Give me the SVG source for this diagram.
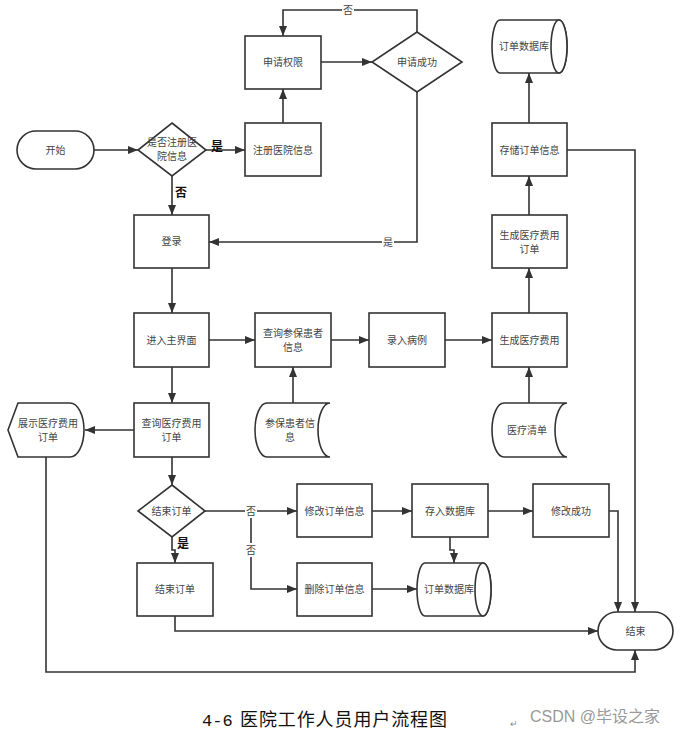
<svg xmlns="http://www.w3.org/2000/svg" width="682" height="735" viewBox="0 0 682 735">
<style>
.s{fill:#fff;stroke:#333;stroke-width:1.6}
.t{font-family:"Noto Sans CJK SC","Noto Sans",sans-serif;font-size:10px;fill:#444;text-anchor:middle}
.c{fill:none;stroke:#333;stroke-width:1.6}
.lb{font-family:"Noto Sans CJK SC",sans-serif;font-size:10px;fill:#444;text-anchor:middle}
.bl{font-family:"Noto Sans CJK SC",sans-serif;font-size:12px;font-weight:bold;fill:#111;text-anchor:middle}
</style>
<defs>
<marker id="a" viewBox="0 0 10 8" refX="10" refY="4" markerWidth="10" markerHeight="8" orient="auto" markerUnits="userSpaceOnUse"><path d="M0,0 L10,4 L0,8 Z" fill="#333"/></marker>
</defs>
<rect width="682" height="735" fill="#fff"/>
<g id="connectors">
<path class="c" d="M94,150 H138" marker-end="url(#a)"/>
<path class="c" d="M206,150 H245" marker-end="url(#a)"/>
<path class="c" d="M283,123 V89" marker-end="url(#a)"/>
<path class="c" d="M321,62 H372" marker-end="url(#a)"/>
<path class="c" d="M417,32 V10 H283 V36" marker-end="url(#a)"/>
<path class="c" d="M417,92 V242 H209" marker-end="url(#a)"/>
<path class="c" d="M172,176 V215" marker-end="url(#a)"/>
<path class="c" d="M172,268 V313" marker-end="url(#a)"/>
<path class="c" d="M209,340 H255" marker-end="url(#a)"/>
<path class="c" d="M331,340 H369" marker-end="url(#a)"/>
<path class="c" d="M445,340 H492" marker-end="url(#a)"/>
<path class="c" d="M293,403 V367" marker-end="url(#a)"/>
<path class="c" d="M529,403 V367" marker-end="url(#a)"/>
<path class="c" d="M529,313 V268" marker-end="url(#a)"/>
<path class="c" d="M529,215 V176" marker-end="url(#a)"/>
<path class="c" d="M529,123 V73" marker-end="url(#a)"/>
<path class="c" d="M567,150 H635 V612" marker-end="url(#a)"/>
<path class="c" d="M172,367 V403" marker-end="url(#a)"/>
<path class="c" d="M134,430 H85" marker-end="url(#a)"/>
<path class="c" d="M172,457 V485" marker-end="url(#a)"/>
<path class="c" d="M172,537 V550 H175 V563" marker-end="url(#a)"/>
<path class="c" d="M205,511 H297" marker-end="url(#a)"/>
<path class="c" d="M251,511 V589 H297" marker-end="url(#a)"/>
<path class="c" d="M372,511 H412" marker-end="url(#a)"/>
<path class="c" d="M488,511 H533" marker-end="url(#a)"/>
<path class="c" d="M450,537 V550 H454 V563" marker-end="url(#a)"/>
<path class="c" d="M372,589 H417" marker-end="url(#a)"/>
<path class="c" d="M609,511 H618 V612" marker-end="url(#a)"/>
<path class="c" d="M175,616 V631 H598" marker-end="url(#a)"/>
<path class="c" d="M46,457 V672 H635 V650" marker-end="url(#a)"/>
<rect x="342" y="3" width="12" height="14" fill="#fff"/>
<text class="lb" x="348" y="14">否</text>
<rect x="382" y="235" width="12" height="14" fill="#fff"/>
<text class="lb" x="388" y="246">是</text>
<rect x="245" y="504" width="12" height="14" fill="#fff"/>
<text class="lb" x="251" y="515">否</text>
<rect x="245" y="543" width="12" height="14" fill="#fff"/>
<text class="lb" x="251" y="554">否</text>
<text class="bl" x="217" y="151">是</text>
<text class="bl" x="181" y="197">否</text>
<text class="bl" x="183" y="548">是</text>
</g>
<g id="start"><rect class="s" x="17" y="131" width="77" height="38" rx="19"/><text class="t" x="55.5" y="154">开始</text></g>
<g id="d1"><path class="s" d="M172,123 L206,150 L172,176 L138,150 Z"/><text class="t" x="172" y="146">是否注册医</text><text class="t" x="172" y="160">院信息</text></g>
<g id="reg"><rect class="s" x="245" y="123" width="76" height="53"/><text class="t" x="283" y="154">注册医院信息</text></g>
<g id="apply"><rect class="s" x="245" y="36" width="76" height="53"/><text class="t" x="283" y="66">申请权限</text></g>
<g id="d2"><path class="s" d="M417,32 L462,62 L417,92 L372,62 Z"/><text class="t" x="417" y="66">申请成功</text></g>
<g id="db1"><path class="s" d="M500,20 H559 A8,26.5 0 0 1 559,73 H500 A8,26.5 0 0 1 500,20 Z"/><ellipse class="s" cx="559" cy="46.5" rx="8" ry="26.5"/><text class="t" x="524" y="50">订单数据库</text></g>
<g id="store"><rect class="s" x="492" y="123" width="75" height="53"/><text class="t" x="529.5" y="154">存储订单信息</text></g>
<g id="genorder"><rect class="s" x="492" y="215" width="75" height="53"/><text class="t" x="529.5" y="239">生成医疗费用</text><text class="t" x="529.5" y="253">订单</text></g>
<g id="login"><rect class="s" x="134" y="215" width="75" height="53"/><text class="t" x="171.5" y="245">登录</text></g>
<g id="main"><rect class="s" x="134" y="313" width="75" height="54"/><text class="t" x="171.5" y="344">进入主界面</text></g>
<g id="query"><rect class="s" x="255" y="313" width="76" height="54"/><text class="t" x="293" y="337">查询参保患者</text><text class="t" x="293" y="351">信息</text></g>
<g id="case"><rect class="s" x="369" y="313" width="76" height="54"/><text class="t" x="407" y="344">录入病例</text></g>
<g id="gen"><rect class="s" x="492" y="313" width="75" height="54"/><text class="t" x="529.5" y="344">生成医疗费用</text></g>
<g id="patient"><path class="s" d="M267,403 H330 A12,27 0 0 0 330,457 H267 A12,27 0 0 1 267,403 Z"/><text class="t" x="290" y="427">参保患者信</text><text class="t" x="290" y="441">息</text></g>
<g id="list"><path class="s" d="M504,403 H567 A12,27 0 0 0 567,457 H504 A12,27 0 0 1 504,403 Z"/><text class="t" x="527" y="434">医疗清单</text></g>
<g id="queryfee"><rect class="s" x="134" y="403" width="75" height="54"/><text class="t" x="171.5" y="427">查询医疗费用</text><text class="t" x="171.5" y="441">订单</text></g>
<g id="show"><path class="s" d="M18,403 H70 A14,27 0 0 1 70,457 H18 L8,430 Z"/><text class="t" x="48" y="427">展示医疗费用</text><text class="t" x="48" y="441">订单</text></g>
<g id="d3"><path class="s" d="M172,485 L205,511 L172,537 L138,511 Z"/><text class="t" x="171.5" y="515">结束订单</text></g>
<g id="endorder"><rect class="s" x="137" y="563" width="76" height="53"/><text class="t" x="175" y="593">结束订单</text></g>
<g id="modify"><rect class="s" x="297" y="484" width="75" height="53"/><text class="t" x="334.5" y="515">修改订单信息</text></g>
<g id="delete"><rect class="s" x="297" y="563" width="75" height="53"/><text class="t" x="334.5" y="593">删除订单信息</text></g>
<g id="save"><rect class="s" x="412" y="484" width="76" height="53"/><text class="t" x="450" y="515">存入数据库</text></g>
<g id="ok"><rect class="s" x="533" y="484" width="76" height="53"/><text class="t" x="571" y="515">修改成功</text></g>
<g id="db2"><path class="s" d="M425,563 H483 A8,26.5 0 0 1 483,616 H425 A8,26.5 0 0 1 425,563 Z"/><ellipse class="s" cx="483" cy="589.5" rx="8" ry="26.5"/><text class="t" x="449" y="593">订单数据库</text></g>
<g id="end"><rect class="s" x="598" y="612" width="75" height="38" rx="19"/><text class="t" x="635.5" y="635">结束</text></g>
<text x="202" y="726" font-family="'Liberation Mono',monospace" font-size="17" fill="#111">4-6</text>
<text x="240" y="726" font-family="'Noto Sans CJK SC',serif" font-size="18" fill="#111" textLength="207" lengthAdjust="spacing">医院工作人员用户流程图</text>
<text x="510" y="727" font-family="'Liberation Sans',sans-serif" font-size="9" fill="#888">↵</text>
<text x="530" y="722" font-family="'Liberation Sans','Noto Sans CJK SC',sans-serif" font-size="16" fill="#999">CSDN @毕设之家</text>
</svg>
